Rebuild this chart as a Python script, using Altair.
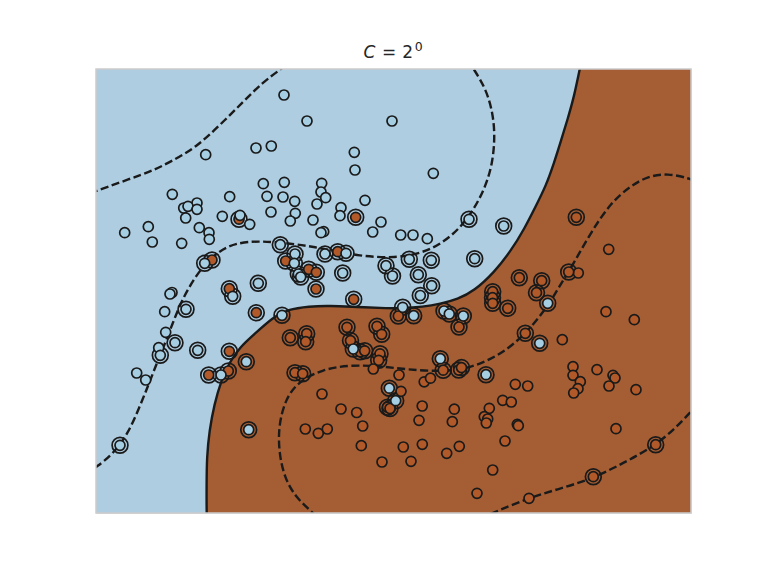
import altair as alt
import pandas as pd

X0, X1, Y0, Y1 = 96, 691, 69, 513
W, H = X1 - X0, Y1 - Y0
BLUE_BG, BROWN_BG = "#aecde1", "#a55e34"
BLUE_PT, BROWN_PT = "#a6cee3", "#b15928"
INK = "#1a1a1a"

# decision boundary
bnd_x = [207.5,206.5,206.6,206.8,209.3,214.3,221,229.3,239.3,256,272.7,287.7,309.3,329.3,356,389.3,400,423.3,440,457.7,474,494.3,511,524.3,536,546,554.3,561,567.7,574.3,579.7,584]
bnd_y = [530,513,484.3,457.7,431,404.3,381,362.7,347.7,332.7,317.7,309.3,306.3,305.7,307,308.3,308.3,306.8,304,299.3,291,272.3,250.7,229,205.7,185.7,162.3,140.7,119,95.7,69,50]
# corners outside the plot that close the brown region
close_x = [720,720,720,720,720,720,207.5,207.5,207.5]
close_y = [40,40,40,540,540,540,540,540,540]

# margins
seg_a_x = [90,99.3,129.3,152.7,172.7,196,219.3,242.7,262.7,281,290]
seg_a_y = [193,190,179,170.7,160.7,147.3,125.7,102.3,82.3,69,62]
seg_b_x = [468,474.3,486,492.7,495,492.7,486,474.3,459.3,441,421,396,359.3,326,296,259.3,236,219.3,202.7,186,176,166,157.7,149.3,139.3,127.7,112.7,97,88]
seg_b_y = [60,70,89,112.3,135.7,162.3,185.7,209,229,244,253.3,258,256.3,249,244,240.7,243,250.7,265.7,291.7,314.3,341,361,382.7,407.7,434.3,454.3,466.7,472]
seg_c_x = [325,311,296,284.3,278.7,278.7,286,299.3,322.7,349.3,379.3,391,424.3,457.7,484.3,507.7,524.3,537.7,551,556.7,574.3,591,611,631,647.7,667.7,689.3,700]
seg_c_y = [525,511,497.7,477.7,451,424.3,397.7,381,369.3,365,366,367.7,371,371,362.7,349.3,334.3,319.3,301,290.7,262.3,232.3,202.3,185.7,176.3,173.3,178.3,183]
seg_d_x = [480,497.7,529.3,557.7,591,624.3,654.3,674.3,690,700]
seg_d_y = [518,511,497.7,489.3,479.3,462.7,446,429.3,412.7,402]

# ringed points: blue class
ring_blue_x = [280.3,204.7,295,294.3,298.3,300.7,325,346,232.7,258.3,282,186,175,160.3,197.7,221,246.3,120,248.7,353.3,402.7,413.7,444,449.3,463.3,440.3,389.3,395.7,547.7,539.7,486,469,503.7,474.7,409.3,431.3,418.3,431.7,420.3,386,392.5,342.7]
ring_blue_y = [244.7,263.3,254,263.3,274,277,254,253.3,296.3,283.3,315.3,309.3,342.7,355.3,350.3,375,361.7,445.3,429.7,349,307.3,315.7,311,314,316,358.7,388.2,400.7,303.3,343.3,374.7,219.3,226,258.7,259.3,260.3,274.7,285.7,295.5,265.7,276,273]
# ringed points: brown class
ring_brown_x = [239,355.7,212,285.7,308.7,316.3,316,337.7,229.3,256.3,229.3,208.7,228.3,353.7,290.3,306.7,305.7,295,302.7,347,350.5,360.2,364.7,377,381.7,380,378.7,387.5,390,398.3,459,443.2,458.7,461.5,536.5,492.7,492.5,492.7,507.7,525.3,593.3,655.7,576.3,568.7,519.3,541.7]
ring_brown_y = [219.2,217.3,260,261,269.3,272.3,289,251.7,288.7,312.7,351.3,375,371,299.3,337.7,333.7,341.7,372.7,373.7,327.3,340.6,351.8,350.8,326.3,334.3,353.8,360.3,407.2,408.5,316,327,370.2,370,367.6,292.7,291.7,297.7,303.3,308.3,333.3,476.7,444.7,217.3,272,277.7,280.7]
# plain points: blue class
plain_blue_x = [284,307,392,256,271.3,205.7,354.3,355,172.3,263.3,284.3,321.7,321,325.7,267,283,294.7,229.7,197,183.7,188,197,317,365,341,340,295.3,271,185.7,222.3,240,249.7,290.3,313,381,372.7,323.7,321,148.3,124.7,152.3,181.7,199.3,209,209.3,400.7,413,427.3,433.3,172,170,164.7,165.7,158.7,136.7,145.7]
plain_blue_y = [95,121,121,148,146,154.7,152.3,170,194.3,183.7,182.3,183.3,192,197.7,196.3,197,201.3,196.7,203,208,206.3,209.3,204,200.3,207.7,215.7,213.3,212,218,216.3,215.3,224.3,221,220,222,232,231.7,232.7,226.7,232.7,242,243.3,227.7,232.7,239.3,235,235,238.7,173.3,292.5,294,311.7,332.3,347.7,373,380]
# plain points: brown class
plain_brown_x = [373.3,399,424.2,430.5,401,422.2,341,356.7,454.3,419,452.3,489.3,484.3,487.7,486.3,502.7,511.3,515.3,527.7,517.3,518.3,505,403.3,422.3,411,446.7,459.3,492.7,477,529,616,636,573,573,580.3,578,573.7,597,613,615,609,606,634.3,562.3,322,362.7,305.3,318.3,327.3,361.3,382,578.3,608.7]
plain_brown_y = [369,375,381.8,378.2,391.3,406,409,412.5,409.2,420.3,421.7,408.3,416.7,419,423,400.3,402,384.3,386,424.3,425.7,441,447,444.3,461.3,453.3,446.3,470,493.3,498.3,428.7,389.7,366.7,375.3,381.7,388.7,393,369.7,375.3,378,386,311.7,319.7,339.7,394,426,429,433.3,429,445.7,462,273,249.3]

x_scale = alt.Scale(domain=[X0, X1], nice=False, zero=False)
y_scale = alt.Scale(domain=[Y1, Y0], nice=False, zero=False)
X = lambda f="x": alt.X(f"{f}:Q", scale=x_scale, axis=None)
Y = lambda f="y": alt.Y(f"{f}:Q", scale=y_scale, axis=None)

bg = alt.Chart(pd.DataFrame({"a": [0]})).mark_rect(color=BLUE_BG).encode(
    x=alt.value(0), x2=alt.value(W), y=alt.value(0), y2=alt.value(H))

fill_x, fill_y = bnd_x + close_x, bnd_y + close_y
region = pd.DataFrame({"x": fill_x, "y": fill_y, "i": range(len(fill_x))})
area = alt.Chart(region).mark_line(
    fill=BROWN_BG, stroke=BROWN_BG, strokeWidth=0, interpolate="basis", clip=True
).encode(x=X(), y=Y(), order="i:Q")

bnd = pd.DataFrame({"x": bnd_x, "y": bnd_y, "i": range(len(bnd_x))})
curve = alt.Chart(bnd).mark_line(
    color=INK, strokeWidth=2.4, interpolate="basis", clip=True
).encode(x=X(), y=Y(), order="i:Q")

rows = []
for name, xs, ys in [("a", seg_a_x, seg_a_y), ("b", seg_b_x, seg_b_y), ("c", seg_c_x, seg_c_y), ("d", seg_d_x, seg_d_y)]:
    rows += [{"seg": name, "x": a, "y": b, "i": k} for k, (a, b) in enumerate(zip(xs, ys))]
margins = alt.Chart(pd.DataFrame(rows)).mark_line(
    color=INK, strokeWidth=2.4, strokeDash=[8, 3.5], interpolate="basis", clip=True
).encode(x=X(), y=Y(), detail="seg:N", order="i:Q")

rings = pd.DataFrame({"x": ring_blue_x + ring_brown_x, "y": ring_blue_y + ring_brown_y})
ring_layer = alt.Chart(rings).mark_point(
    shape="circle", filled=False, size=250, stroke=INK, strokeWidth=1.7, opacity=1
).encode(x=X(), y=Y())

pts = pd.DataFrame({
    "x": plain_brown_x + ring_brown_x + plain_blue_x + ring_blue_x,
    "y": plain_brown_y + ring_brown_y + plain_blue_y + ring_blue_y,
    "c": ["brown"] * (len(plain_brown_x) + len(ring_brown_x)) + ["blue"] * (len(plain_blue_x) + len(ring_blue_x)),
})
pt_layer = alt.Chart(pts).mark_point(
    shape="circle", filled=True, size=100, stroke=INK, strokeWidth=1.7, opacity=1
).encode(
    x=X(), y=Y(),
    fill=alt.Fill("c:N", scale=alt.Scale(domain=["blue", "brown"], range=[BLUE_PT, BROWN_PT]), legend=None),
)

frame = alt.Chart(pd.DataFrame({"a": [0]})).mark_rect(filled=False, stroke="#cccccc", strokeWidth=1.5).encode(
    x=alt.value(0), x2=alt.value(W), y=alt.value(0), y2=alt.value(H))

def label(txt, px, size=17, py=58.3, style="normal"):
    return alt.Chart(pd.DataFrame({"t": [txt]})).mark_text(
        font="DejaVu Sans", fontSize=size, fontStyle=style, align="left", baseline="alphabetic", color="#262626"
    ).encode(x=alt.value(px - X0), y=alt.value(py - Y0), text="t:N")

title = label("C", 363.5, style="italic") + label("=", 382) + label("2", 402.3) + label("0", 414.8, size=12.5, py=50.5)

chart = alt.layer(bg, area, curve, margins, ring_layer, pt_layer, frame, title).resolve_scale(
    fill="independent"
).properties(
    width=W, height=H,
    autosize=alt.AutoSizeParams(type="none"),
    padding={"left": X0 - 8, "top": Y0 - 8, "right": 60, "bottom": 50},
).configure_view(stroke=None).configure(background="white")

chart.save("out.html", embed_options={"renderer": "svg", "actions": False})
